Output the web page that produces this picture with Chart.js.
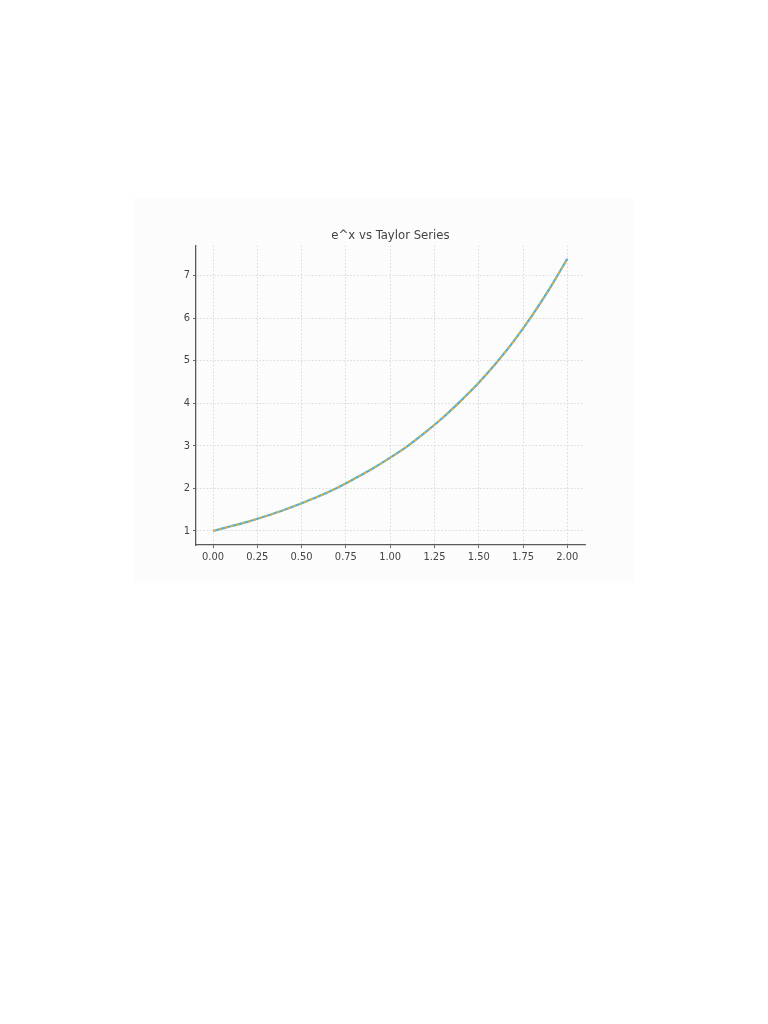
<!DOCTYPE html>
<html>
<head>
<meta charset="utf-8">
<script src="https://cdn.jsdelivr.net/npm/chart.js@4"></script>
<style>
  body { margin: 0; background: #fff; }
  #wrap { position: absolute; left: 133px; top: 198px; width: 500px; height: 385px; background: #fcfcfc; }
</style>
</head>
<body>
<div id="wrap"><canvas id="c"></canvas></div>
<script>
// x samples and values
const xVals    = [0, 0.1, 0.2, 0.3, 0.4, 0.5, 0.6, 0.7, 0.8, 0.9, 1.0, 1.1, 1.2, 1.3, 1.4, 1.5, 1.6, 1.7, 1.8, 1.9, 2.0];
const expVals  = [1.00, 1.11, 1.22, 1.35, 1.49, 1.65, 1.82, 2.01, 2.23, 2.46, 2.72, 3.00, 3.32, 3.67, 4.06, 4.48, 4.95, 5.47, 6.05, 6.69, 7.39];
const taylVals = [1.00, 1.11, 1.22, 1.35, 1.49, 1.65, 1.82, 2.01, 2.23, 2.46, 2.72, 3.00, 3.32, 3.67, 4.05, 4.48, 4.95, 5.47, 6.05, 6.68, 7.38];
const xTicks   = [0, 0.25, 0.5, 0.75, 1.0, 1.25, 1.5, 1.75, 2.0];
const yTicks   = [1, 2, 3, 4, 5, 6, 7];

const FONT = "'DejaVu Sans Condensed', 'DejaVu Sans', sans-serif";
const pts = arr => arr.map((y, i) => ({ x: xVals[i], y }));

const gridOpts = { color: '#cfcfcf', lineWidth: 0.8, drawTicks: true, tickLength: 3, tickColor: '#666', tickWidth: 1, tickBorderDash: [] };
// in v4 border.dash dashes the grid lines, the axis line stays solid
const borderOpts = { display: true, color: '#5a5a5a', width: 1.3, dash: [1.5, 2] };

new Chart(document.getElementById('c'), {
  type: 'line',
  data: {
    datasets: [
      { label: 'Taylor', data: pts(taylVals), borderColor: '#e5ae38', borderWidth: 1.8, borderDash: [3, 3], pointRadius: 0, tension: 0.3, order: 0 },
      { label: 'e^x', data: pts(expVals), borderColor: '#4fb0d8', borderWidth: 2.2, pointRadius: 0, tension: 0.3, order: 1 },
    ],
  },
  options: {
    responsive: true,
    maintainAspectRatio: false,
    animation: false,
    layout: { padding: { left: 33, right: 48, top: 0, bottom: 8 } },
    plugins: {
      legend: { display: false },
      tooltip: { enabled: false },
      title: {
        display: true,
        fullSize: false, // centre over the plot, not the canvas
        text: 'e^x vs Taylor Series',
        color: '#444',
        font: { family: FONT, size: 13, weight: 'normal' },
        padding: { top: 30, bottom: 2 },
      },
    },
    scales: {
      x: {
        type: 'linear',
        min: -0.096,
        max: 2.10,
        afterBuildTicks: s => { s.ticks = xTicks.map(v => ({ value: v })); },
        afterFit: s => { s.height = 30; },
        ticks: { color: '#444', padding: 3, font: { family: FONT, size: 11 }, maxRotation: 0, callback: v => v.toFixed(2) },
        grid: { ...gridOpts },
        border: { ...borderOpts },
      },
      y: {
        type: 'linear',
        min: 0.67,
        max: 7.70,
        afterBuildTicks: s => { s.ticks = yTicks.map(v => ({ value: v })); },
        afterFit: s => { s.width = 30; },
        ticks: { color: '#444', padding: 3, font: { family: FONT, size: 11 } },
        grid: { ...gridOpts },
        border: { ...borderOpts },
      },
    },
  },
});
</script>
</body>
</html>
